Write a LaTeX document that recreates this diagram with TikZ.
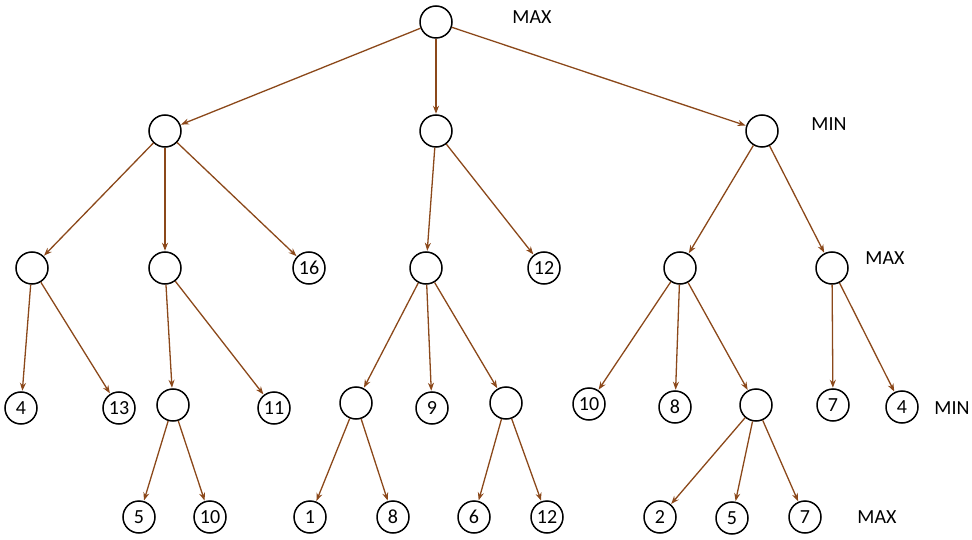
\documentclass[tikz,border=0pt]{standalone}
\usepackage{fontspec}
\setmainfont{Carlito}
\usetikzlibrary{arrows.meta}
\definecolor{edgebrown}{RGB}{139,72,26}

\begin{document}
\begin{tikzpicture}[x=1pt, y=-1pt,
    state/.style={circle, draw, line width=1.5pt, minimum size=32pt, inner sep=1pt, font=\fontsize{20}{24}\selectfont},
    edge/.style={draw=edgebrown, line width=1.3pt, -{Stealth[length=8pt, width=6pt]}, shorten >=0.5pt},
    level/.style={font=\fontsize{20}{24}\selectfont}]
    \useasboundingbox (0,0) rectangle (972,540);

    % Root and first level
    \node[state] (n) at (436,22) {};
    \node[state] (n1) at (165,131) {};
    \node[state] (n2) at (436,131) {};
    \node[state] (n3) at (762,131) {};

    % Second level
    \node[state] (n11) at (32,268) {};
    \node[state] (n12) at (165,268) {};
    \node[state] (n13) at (309,268) {16};
    \node[state] (n21) at (426,268) {};
    \node[state] (n22) at (544,268) {12};
    \node[state] (n31) at (680,268) {};
    \node[state] (n32) at (832,268) {};

    % Third level
    \node[state] (n111) at (21,408) {4};
    \node[state] (n112) at (119,408) {13};
    \node[state] (n121) at (173,405) {};
    \node[state] (n122) at (274,408) {11};
    \node[state] (n211) at (356,403) {};
    \node[state] (n212) at (432,408) {9};
    \node[state] (n213) at (506,403) {};
    \node[state] (n311) at (589,404) {10};
    \node[state] (n312) at (675,407) {8};
    \node[state] (n313) at (756,405) {};
    \node[state] (n321) at (833,405) {7};
    \node[state] (n322) at (902,407) {4};

    % Fourth level
    \node[state] (n1211) at (139,517) {5};
    \node[state] (n1212) at (210,517) {10};
    \node[state] (n2111) at (310,517) {1};
    \node[state] (n2112) at (393,517) {8};
    \node[state] (n2131) at (474,517) {6};
    \node[state] (n2132) at (547,517) {12};
    \node[state] (n3131) at (660,517) {2};
    \node[state] (n3132) at (732,518) {5};
    \node[state] (n3133) at (805,517) {7};

    % Level labels
    \node[level] (lmax0) at (532,17) {MAX};
    \node[level] (lmin1) at (829,124) {MIN};
    \node[level] (lmax2) at (885,258) {MAX};
    \node[level] (lmin3) at (952,408) {MIN};
    \node[level] (lmax4) at (877,517) {MAX};

    % Edges
    \draw[edge] (n) -- (n1);
    \draw[edge] (n) -- (n2);
    \draw[edge] (n) -- (n3);

    \draw[edge] (n1) -- (n11);
    \draw[edge] (n1) -- (n12);
    \draw[edge] (n1) -- (n13);
    \draw[edge] (n2) -- (n21);
    \draw[edge] (n2) -- (n22);
    \draw[edge] (n3) -- (n31);
    \draw[edge] (n3) -- (n32);

    \draw[edge] (n11) -- (n111);
    \draw[edge] (n11) -- (n112);
    \draw[edge] (n12) -- (n121);
    \draw[edge] (n12) -- (n122);
    \draw[edge] (n21) -- (n211);
    \draw[edge] (n21) -- (n212);
    \draw[edge] (n21) -- (n213);
    \draw[edge] (n31) -- (n311);
    \draw[edge] (n31) -- (n312);
    \draw[edge] (n31) -- (n313);
    \draw[edge] (n32) -- (n321);
    \draw[edge] (n32) -- (n322);

    \draw[edge] (n121) -- (n1211);
    \draw[edge] (n121) -- (n1212);
    \draw[edge] (n211) -- (n2111);
    \draw[edge] (n211) -- (n2112);
    \draw[edge] (n213) -- (n2131);
    \draw[edge] (n213) -- (n2132);
    \draw[edge] (n313) -- (n3131);
    \draw[edge] (n313) -- (n3132);
    \draw[edge] (n313) -- (n3133);
\end{tikzpicture}
\end{document}
